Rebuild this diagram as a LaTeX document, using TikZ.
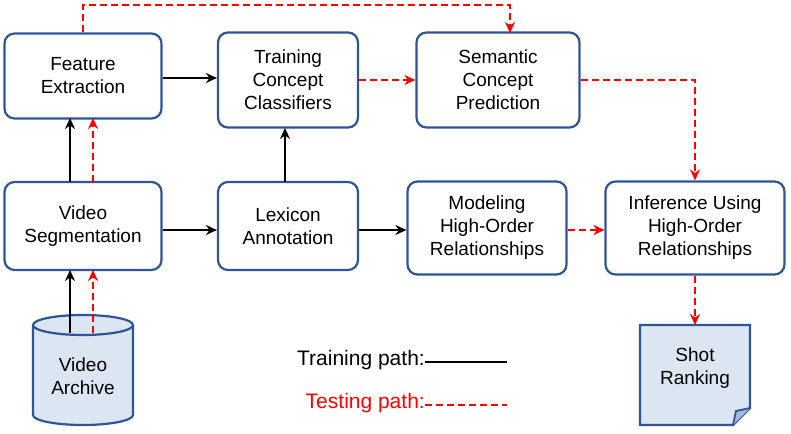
\documentclass[tikz,border=0pt]{standalone}
\usepackage{fontspec}
\setmainfont{Liberation Sans}
\usetikzlibrary{shapes.geometric,arrows.meta}
\definecolor{bfill}{HTML}{DCE6F2}
\definecolor{bdraw}{HTML}{2F5597}
\begin{document}
\begin{tikzpicture}[x=1pt,y=-1pt,
 fnt/.style={font=\fontsize{19}{23}\selectfont},
 box/.style={draw=bdraw,fill=white,line width=2.2pt,rounded corners=10pt,align=center,fnt,inner sep=1pt},
 tr/.style={black,line width=2.8pt,-{Stealth[length=11pt,width=10pt]}},
 te/.style={red,line width=2.8pt,dash pattern=on 7pt off 4pt,-{Stealth[length=11pt,width=10pt]}}]
\useasboundingbox (0,0) rectangle (791,433);
\node[box,minimum width=157pt,minimum height=85pt] (fe) at (83,76) {Feature\\Extraction};
\node[box,minimum width=140pt,minimum height=95pt] (tc) at (288,80) {Training\\Concept\\Classifiers};
\node[box,minimum width=163pt,minimum height=95pt] (sc) at (498,80) {Semantic\\Concept\\Prediction};
\node[box,minimum width=157pt,minimum height=88pt] (vs) at (83,226) {Video\\Segmentation};
\node[box,minimum width=140pt,minimum height=88pt] (la) at (288,226) {Lexicon\\Annotation};
\node[box,minimum width=159pt,minimum height=93pt] (mh) at (487,228) {Modeling\\High-Order\\Relationships};
\node[box,minimum width=179pt,minimum height=93pt] (ih) at (695,228) {Inference Using\\High-Order\\Relationships};
\draw[draw=bdraw,fill=bfill,line width=2.2pt] (33,325) -- (33,415) arc[start angle=180,end angle=360,x radius=50,y radius=-10] -- (133,325) arc[start angle=0,end angle=180,x radius=50,y radius=-10];
\draw[draw=bdraw,line width=2.2pt] (33,325) arc[start angle=180,end angle=360,x radius=50,y radius=-10];
\node[align=center,fnt] (vat) at (83,376) {Video\\Archive};
\draw[draw=bdraw,fill=bfill,line width=2.2pt] (640,325) -- (750,325) -- (750,408) -- (733,425) -- (640,425) -- cycle;
\draw[draw=bdraw,line width=1.8pt,fill=bfill!70!bdraw] (750,408) -- (736,411) -- (733,425);
\node[align=center,fnt] (sr) at (695,368) {Shot\\Ranking};
\node[anchor=east,font=\fontsize{21}{25}\selectfont,inner sep=0pt] (lt) at (425,360) {Training path:};
\node[anchor=east,font=\fontsize{21}{25}\selectfont,text=red,inner sep=0pt] (lx) at (425,403) {Testing path:};
\coordinate (lt2) at (507,362);
\coordinate (lx2) at (507,405);
\draw[black,line width=2.8pt] (lt.east|-lt2) -- (lt2);
\draw[red,line width=2.8pt,dash pattern=on 7pt off 4pt] (lx.east|-lx2) -- (lx2);
\draw[tr] (fe.east|-0,78) -- (tc.west|-0,78);
\draw[te] (tc.east) -- (sc.west);
\draw[te] (fe.north) -- (83,5) -| (510,33);
\draw[te] (sc.east) -| (ih.north);
\draw[tr] (70,182) -- (70,118);
\draw[te] (93,182) -- (93,118);
\draw[tr] (70,333) -- (70,270);
\draw[te] (93,333) -- (93,270);
\draw[tr] (vs.east|-0,230) -- (la.west|-0,230);
\draw[tr] (285,182) -- (285,128);
\draw[tr] (la.east|-0,230) -- (mh.west|-0,230);
\draw[te] (mh.east|-0,230) -- (ih.west|-0,230);
\draw[te] (ih.south) -- (695,325);
\end{tikzpicture}
\end{document}
